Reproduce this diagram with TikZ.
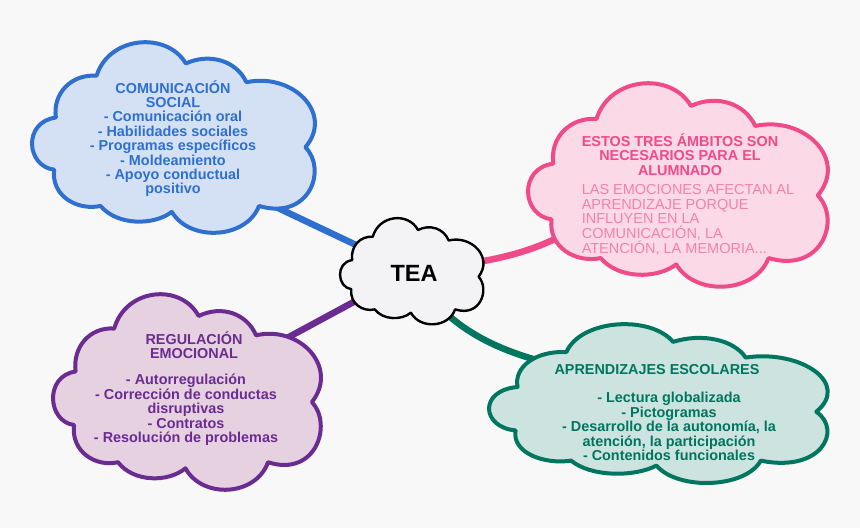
\documentclass[tikz,border=0pt]{standalone}
\usepackage{fontspec}
\setmainfont{Liberation Sans}
\pgfdeclarelayer{bg}\pgfdeclarelayer{conn}\pgfdeclarelayer{cloud}
\pgfsetlayers{bg,conn,cloud,main}
\definecolor{bgc}{HTML}{F8F8F8}
\definecolor{blueC}{HTML}{2E6FD0}\definecolor{blueF}{HTML}{D4E1F5}
\definecolor{pinkC}{HTML}{F04A88}\definecolor{pinkF}{HTML}{FBD9E6}\definecolor{pinkT}{HTML}{F681AC}
\definecolor{purpC}{HTML}{6A2C91}\definecolor{purpF}{HTML}{E6D1E0}
\definecolor{grnC}{HTML}{00755F}\definecolor{grnF}{HTML}{CCE3DF}
\definecolor{teaF}{HTML}{F3F3F5}
\newcommand\cloudpath{(105,262) .. controls (95,190) and (150,130) .. (228,135)
 .. controls (265,15) and (440,0) .. (497,98)
 .. controls (570,65) and (650,90) .. (680,155)
 .. controls (820,125) and (945,250) .. (858,352)
 .. controls (925,420) and (870,575) .. (718,530)
 .. controls (680,630) and (510,640) .. (455,548)
 .. controls (400,590) and (290,590) .. (240,530)
 .. controls (170,545) and (90,500) .. (100,420)
 .. controls (15,410) and (5,275) .. (105,262) -- cycle}
% x0 y0 width height linewidth stroke fill
\newcommand\cloudat[7]{\begin{pgfonlayer}{cloud}
 \begin{scope}[shift={(#1,#2)},xscale=#3/857,yscale=#4/582,shift={(-33,-33)}]
 \path[draw=#6,fill=#7,line width=#5,line join=round] \cloudpath;
 \end{scope}\end{pgfonlayer}}
\tikzset{x=1pt,y=-1pt,
 txt/.style={inner sep=0pt,align=center,font=\fontsize{14.4}{14.4}\selectfont\bfseries},
 link/.style={line width=6.5pt}}
\begin{document}
\begin{tikzpicture}
\useasboundingbox (0,0) rectangle (860,528);
\begin{pgfonlayer}{bg}\fill[bgc] (0,0) rectangle (860,528);\end{pgfonlayer}
\cloudat{32}{42}{284}{192}{4pt}{blueC}{blueF}
\cloudat{528}{83}{301}{205}{4pt}{pinkC}{pinkF}
\cloudat{53}{294}{269}{197}{4pt}{purpC}{purpF}
\cloudat{489}{324}{340}{160}{4pt}{grnC}{grnF}
\cloudat{340}{218}{144}{107}{2.4pt}{black}{teaF}
\node[txt,font=\fontsize{23.5}{24}\selectfont\bfseries] (tea) at (414,273.5) {TEA};
\node[txt,text=blueC] (blue) at (173,138.6) {COMUNICACIÓN\\SOCIAL\\- Comunicación oral\\- Habilidades sociales\\- Programas específicos\\- Moldeamiento\\- Apoyo conductual\\positivo};
\node[txt,text=pinkC] (pinkH) at (680,154.5) {ESTOS TRES ÁMBITOS SON\\NECESARIOS PARA EL\\ALUMNADO};
\node[inner sep=0pt,align=left,text=pinkT,font=\fontsize{14.5}{14.4}\selectfont] (pinkB) at (688,220) {LAS EMOCIONES AFECTAN AL\\APRENDIZAJE PORQUE\\INFLUYEN EN LA\\COMUNICACIÓN, LA\\ATENCIÓN, LA MEMORIA...};
\node[txt,text=purpC] (purpH) at (194,345) {REGULACIÓN\\EMOCIONAL};
\node[txt,text=purpC] (purpB) at (186,410) {- Autorregulación\\- Corrección de conductas\\disruptivas\\- Contratos\\- Resolución de problemas};
\node[txt,text=grnC] (grnH) at (657,370) {APRENDIZAJES ESCOLARES};
\node[txt,text=grnC] (grnB) at (669,426.5) {- Lectura globalizada\\- Pictogramas\\- Desarrollo de la autonomía, la\\atención, la participación\\- Contenidos funcionales};
\coordinate (ablue) at (240,190);
\coordinate (apurp) at (250,358);
\coordinate (apink) at (575,228);
\coordinate (agrn) at (560,366);
\coordinate (hub) at (411,271);
\begin{pgfonlayer}{conn}
\draw[link,blueC] (hub) -- (ablue);
\draw[link,purpC] (hub) -- (apurp);
\draw[link,pinkC] (hub) .. controls (460,264) and (520,262) .. (apink);
\draw[link,grnC] (hub) .. controls (445,325) and (490,350) .. (agrn);
\end{pgfonlayer}
\end{tikzpicture}
\end{document}
